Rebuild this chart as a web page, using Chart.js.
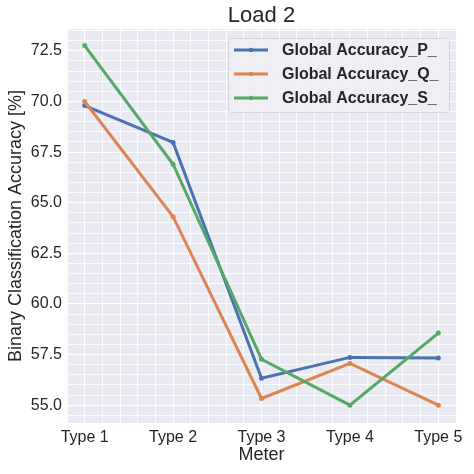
<!DOCTYPE html>
<html>
<head>
<meta charset="utf-8">
<script src="https://cdn.jsdelivr.net/npm/chart.js@4.4.1/dist/chart.umd.min.js"></script>
<style>
  html, body { margin: 0; padding: 0; background: #fff; }
</style>
</head>
<body>
<canvas id="myChart" width="474" height="474"></canvas>
<script>
const categories = ["Type 1", "Type 2", "Type 3", "Type 4", "Type 5"];
const accP = [69.8, 67.98, 56.33, 57.36, 57.33];
const accQ = [70.0, 64.31, 55.33, 57.06, 55.0];
const accS = [72.76, 66.9, 57.27, 55.0, 58.56];
const seriesNames = ["Global Accuracy_P_", "Global Accuracy_Q_", "Global Accuracy_S_"];
const seriesColors = ["#4C72B0", "#DD8452", "#55A868"];
const yTickStep = 2.5;

const TEXT = "#262626";
Chart.defaults.font.family = "'Liberation Sans', Arial, sans-serif";
Chart.defaults.color = TEXT;

function isNear(v, step) {
  const r = v / step;
  return Math.abs(r - Math.round(r)) < 1e-6;
}

// seaborn-like grey plot background + title over the plot area
const backdrop = {
  id: "backdrop",
  beforeDraw(chart) {
    const { ctx, chartArea: a } = chart;
    ctx.save();
    ctx.fillStyle = "#EAEAF2";
    ctx.fillRect(a.left, a.top, a.right - a.left, a.bottom - a.top);
    ctx.restore();
  },
  afterDraw(chart) {
    const { ctx, chartArea: a } = chart;
    ctx.save();
    ctx.font = "22px 'Liberation Sans', Arial, sans-serif";
    ctx.fillStyle = TEXT;
    ctx.textAlign = "center";
    ctx.textBaseline = "middle";
    ctx.fillText("Load 2", (a.left + a.right) / 2, 16);
    ctx.restore();
  }
};

// legend drawn inside the plot, upper right
const innerLegend = {
  id: "innerLegend",
  afterDatasetsDraw(chart) {
    const ctx = chart.ctx;
    const box = { x: 228.5, y: 38.5, w: 221, h: 74 };
    ctx.save();
    ctx.beginPath();
    ctx.roundRect(box.x, box.y, box.w, box.h, 3);
    ctx.fillStyle = "rgba(238,238,245,0.85)";
    ctx.fill();
    ctx.strokeStyle = "rgba(210,210,215,0.8)";
    ctx.lineWidth = 1;
    ctx.stroke();
    ctx.font = "bold 16px 'Liberation Sans', Arial, sans-serif";
    ctx.textBaseline = "middle";
    chart.data.datasets.forEach((ds, i) => {
      const y = 50 + i * 24;
      ctx.strokeStyle = ds.borderColor;
      ctx.lineWidth = 3;
      ctx.beginPath();
      ctx.moveTo(234, y);
      ctx.lineTo(268, y);
      ctx.stroke();
      ctx.fillStyle = ds.borderColor;
      ctx.beginPath();
      ctx.arc(251, y, 2.2, 0, Math.PI * 2);
      ctx.fill();
      ctx.fillStyle = TEXT;
      ctx.fillText(ds.label, 282, y + 1);
    });
    ctx.restore();
  }
};

const seriesValues = [accP, accQ, accS];
const datasets = seriesValues.map((vals, i) => ({
  label: seriesNames[i],
  data: vals.map((v, k) => ({ x: k, y: v })),
  borderColor: seriesColors[i],
  backgroundColor: seriesColors[i],
  borderWidth: 3,
  pointRadius: 2.5,
  pointHoverRadius: 2.5,
  pointBorderWidth: 0,
  tension: 0,
  order: 3 - i
}));

new Chart(document.getElementById("myChart"), {
  type: "line",
  data: { datasets },
  options: {
    responsive: false,
    animation: false,
    events: [],
    layout: { padding: { top: 29, right: 18, left: 0, bottom: 0 } },
    plugins: {
      legend: { display: false },
      tooltip: { enabled: false }
    },
    scales: {
      x: {
        type: "linear",
        min: -0.2,
        max: 4.2,
        border: { display: false },
        grid: {
          drawTicks: false,
          color: (c) => isNear(c.tick.value, 1) ? "#ffffff" : "rgba(255,255,255,0.85)",
          lineWidth: (c) => isNear(c.tick.value, 0.2) ? 1 : 0
        },
        ticks: {
          stepSize: 0.2,
          autoSkip: false,
          maxRotation: 0,
          padding: 5,
          font: { size: 16 },
          callback: (v) => isNear(v, 1) ? categories[Math.round(v)] : ""
        },
        title: {
          display: true,
          text: "Meter",
          font: { size: 18 },
          padding: { top: 0, bottom: 8 }
        },
        afterFit: (s) => { s.height = 51; }
      },
      y: {
        min: 54.12,
        max: 73.58,
        border: { display: false },
        grid: {
          drawTicks: false,
          color: (c) => isNear(c.tick.value, yTickStep) ? "#ffffff" : "rgba(255,255,255,0.85)",
          lineWidth: (c) => isNear(c.tick.value, 0.5) ? 1 : 0
        },
        ticks: {
          stepSize: 0.5,
          autoSkip: false,
          includeBounds: false,
          padding: 5,
          font: { size: 16 },
          callback: (v) => isNear(v, yTickStep) ? v.toFixed(1) : ""
        },
        title: {
          display: true,
          text: "Binary Classification Accuracy [%]",
          font: { size: 18 },
          padding: { top: 5, bottom: 0 }
        },
        afterFit: (s) => { s.width = 67; }
      }
    }
  },
  plugins: [backdrop, innerLegend]
});
</script>
</body>
</html>
